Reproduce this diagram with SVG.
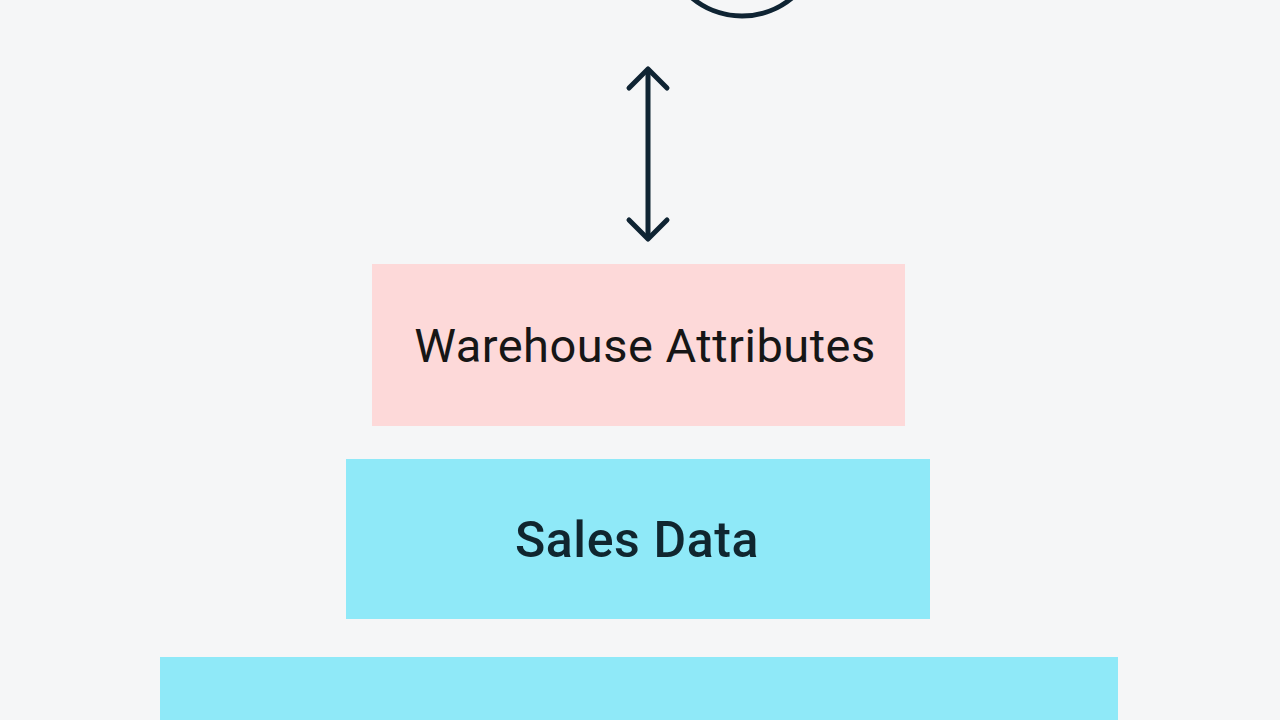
<svg xmlns="http://www.w3.org/2000/svg" width="1280" height="720" viewBox="0 0 1280 720">
<style>
.ink{fill:none;stroke:#0f2433;stroke-width:5;stroke-linecap:round;stroke-linejoin:round}
.lbl{font-family:Roboto,"Liberation Sans",sans-serif;text-anchor:middle}
</style>
<rect x="0" y="0" width="1280" height="720" fill="#f5f6f7"/>
<g id="top-node">
<circle cx="742" cy="-62" r="78" class="ink"/>
</g>
<g id="connectors">
<line x1="648" y1="70" x2="648" y2="238" class="ink"/>
<polyline points="629,88 648,69 667,88" class="ink"/>
<polyline points="629,220 648,239 667,220" class="ink"/>
</g>
<g id="warehouse-attributes">
<rect x="372" y="264" width="533" height="162" fill="#fdd9d9"/>
<text x="645" y="362" class="lbl" font-size="47" letter-spacing="0.5" fill="#161616">Warehouse Attributes</text>
</g>
<g id="sales-data">
<rect x="346" y="459" width="584" height="160" fill="#8fe9f8"/>
<text x="637" y="557" class="lbl" font-size="50" font-weight="500" letter-spacing="0.6" fill="#10262f">Sales Data</text>
</g>
<g id="base-layer">
<rect x="160" y="657" width="958" height="70" fill="#8fe9f8"/>
</g>
</svg>
